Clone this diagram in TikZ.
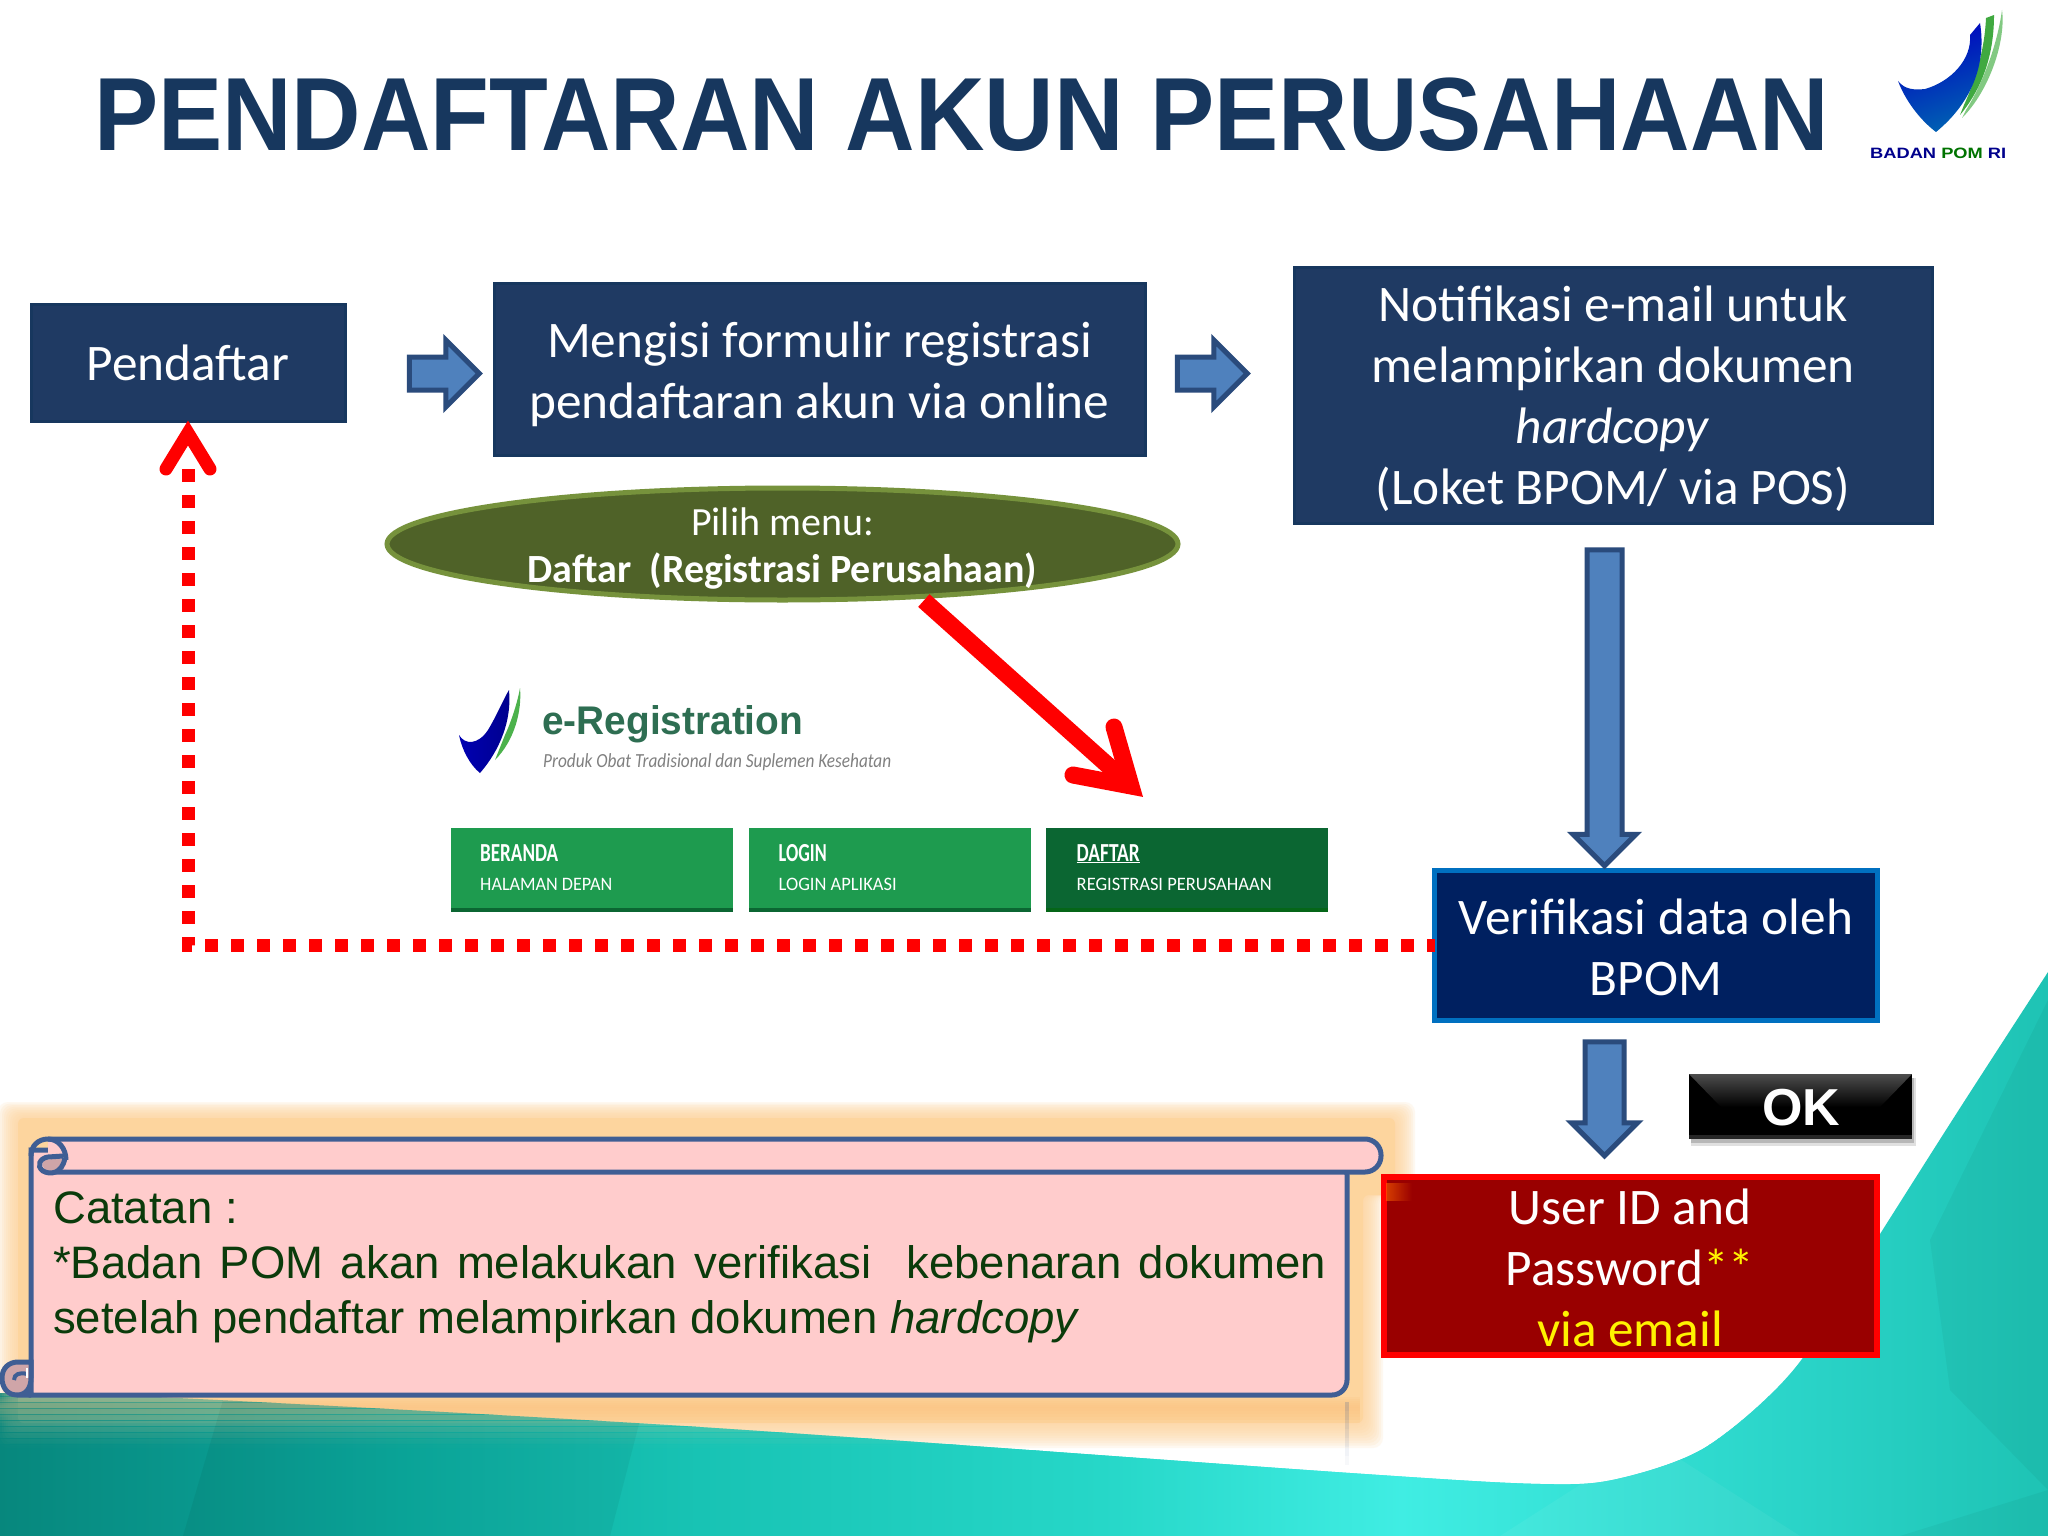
\documentclass[tikz,border=0pt]{standalone}
\usepackage{fontspec}
\usetikzlibrary{shapes.geometric,shapes.arrows,calc}
\setmainfont{Liberation Sans}
\newfontfamily\carl{Carlito}
\newcommand{\fsz}[1]{\fontsize{#1pt}{#1pt}\selectfont}
\newcommand{\fitw}[2]{\resizebox{#1pt}{\height}{#2}}
\newcommand{\nudge}[1]{\rule{0pt}{#1pt}}
\definecolor{navy}{HTML}{1F3A63}
\definecolor{navyline}{HTML}{17375E}
\definecolor{titleblue}{HTML}{17375E}
\definecolor{arrowfill}{HTML}{4F81BD}
\definecolor{arrowline}{HTML}{2A4B7C}
\definecolor{scrollline}{HTML}{3F5E94}
\definecolor{scrollpink}{HTML}{FFCCCC}
\definecolor{scrolldark}{HTML}{CFA5A8}
\definecolor{glow}{HTML}{FDD59E}
\definecolor{glowdark}{HTML}{FBC482}
\definecolor{notegreen}{HTML}{0B3B0B}
\definecolor{tabg}{HTML}{1E9B4F}
\definecolor{tabd}{HTML}{0B6632}
\definecolor{verifill}{HTML}{002060}
\definecolor{veriline}{HTML}{0070C0}
\definecolor{ellfill}{HTML}{4F6228}
\definecolor{ellline}{HTML}{76923C}
\definecolor{eregtext}{HTML}{2E6E52}
\pgfdeclarehorizontalshading{tealbg}{100bp}{
 rgb(0bp)=(0.027,0.53,0.49);
 rgb(25bp)=(0.027,0.53,0.49);
 rgb(29.5bp)=(0.035,0.59,0.55);
 rgb(34.8bp)=(0.043,0.675,0.627);
 rgb(42.1bp)=(0.094,0.765,0.706);
 rgb(51.9bp)=(0.149,0.843,0.784);
 rgb(59.2bp)=(0.25,0.93,0.89);
 rgb(65.3bp)=(0.196,0.87,0.824);
 rgb(68.9bp)=(0.165,0.83,0.784);
 rgb(75bp)=(0.118,0.765,0.706);
 rgb(100bp)=(0.118,0.765,0.706)}
\tikzset{
 x=1pt,y=-1pt,
 flowbox/.style={rectangle,draw=navyline,fill=navy,line width=3pt,text=white,align=center,
   font=\carl\fontsize{51.3pt}{61pt}\selectfont,inner sep=0pt,outer sep=0pt},
 blockarrow/.style={single arrow,draw=arrowline,fill=arrowfill,line width=5pt,inner xsep=0pt,
   outer sep=0pt,single arrow head indent=0pt},
 tabbox/.style={rectangle,minimum width=282pt,minimum height=84pt,inner sep=0pt,outer sep=0pt},
 tabtext/.style={anchor=base west,inner sep=0pt,text=white,font=\carl},
 reddash/.style={draw=red,line width=13pt,dash pattern=on 13pt off 13pt,dash phase=5.5pt},
 redsolid/.style={draw=red,line cap=round,line join=miter,miter limit=10},
 scrollstroke/.style={draw=scrollline,line width=5pt},
 notetext/.style={anchor=base west,inner sep=0pt,text=notegreen,font=\fontsize{45.5pt}{55pt}\selectfont},
}
\begin{document}
\begin{tikzpicture}
\useasboundingbox (0,0) rectangle (2048,1536);
\fill[white] (0,0) rectangle (2048,1536);
% background
\path[shading=tealbg] plot[smooth,tension=0.5] coordinates {(2048,972) (1960,1108) (1880,1234) (1795,1368) (1706,1447) (1617,1479) (1541,1484) (1350,1473) (700,1427) (178,1398) (0,1393)} -- (0,1536) -- (2048,1536) -- cycle;
% glow
\foreach \m in {20,18,...,0}{
 \fill[glow,opacity=.15,rounded corners=10pt] (18-\m,1118-\m*0.8) -- (1395+\m,1118-\m*0.8) -- (1395+\m,1195) -- (1363+\m,1195) -- (1363+\m,1423+\m*1.25) -- (18-\m,1423+\m*1.25) -- cycle;
}
\fill[glow,rounded corners=6pt] (18,1118) -- (1395,1118) -- (1395,1195) -- (1363,1195) -- (1363,1423) -- (18,1423) -- cycle;
\foreach \i in {0,...,5}{
 \fill[glowdark,opacity=.2] (0,1397+\i*2) rectangle (1360,1423-\i*3);
}
% the glow dissolves into the teal band
\begin{scope}
\clip plot[smooth,tension=0.5] coordinates {(2048,972) (1960,1108) (1880,1234) (1795,1368) (1706,1447) (1617,1479) (1541,1484) (1350,1473) (700,1427) (178,1398) (0,1393)} -- (0,1536) -- (2048,1536) -- cycle;
\foreach \i in {0,...,9}{
 \path[shading=tealbg,opacity={.40+.06*\i}] (0,{1390+6*\i}) rectangle (2048,{1396+6*\i});
}
\path[shading=tealbg] (0,1450) rectangle (2048,1536);
\fill[black,opacity=.04] (2048,1000) -- (1930,1240) -- (1950,1390) -- (2048,1490) -- cycle;
\fill[white,opacity=.05] (1650,1440) -- (1800,1536) -- (1500,1536) -- cycle;
\fill[black,opacity=.05] (223,1400) -- (183,1536) -- (610,1536) -- (640,1420) -- cycle;
\fill[black,opacity=.04] (1900,1536) -- (2048,1490) -- (2048,1536) -- cycle;
\end{scope}
% faint reflection of the scroll's right edge
\foreach \i in {0,...,6}{
 \fill[scrollline,opacity={.22-.03*\i}] (1345,{1402+9*\i}) rectangle (1349,{1411+9*\i});
}
% scroll
\draw[scrollstroke,fill=scrollpink] (31,1150) -- (31,1395) [rounded corners=15pt] -- (1347,1395) -- (1347,1160) [sharp corners] -- cycle;
\draw[scrollstroke,fill=scrollpink,rounded corners=16pt] (48,1172) -- (1381,1172) -- (1381,1139) -- (48,1139);
\fill[scrollpink] (48,1143) rectangle (70,1168);
\fill[scrolldark] (44,1160) .. controls (40,1168) and (46,1172) .. (52,1171) .. controls (60,1170) and (62,1165) .. (63,1158) -- cycle;
\draw[scrollstroke] (66,1160) .. controls (66,1148) and (58,1139) .. (48,1139) .. controls (38,1139) and (31,1146) .. (31,1156);
\draw[scrollstroke] (63,1156) -- (48,1157) .. controls (40,1158) and (36,1166) .. (43,1171) .. controls (50,1175) and (62,1174) .. (65,1158);
\draw[scrollstroke,fill=scrolldark] (17,1395) .. controls (7,1395) and (2,1387) .. (2,1378) .. controls (2,1368) and (9,1362) .. (18,1362) -- (31,1362) -- (31,1378) .. controls (31,1388) and (26,1395) .. (17,1395) -- (31,1395);
\draw[scrollstroke,line width=4pt] (27,1374) .. controls (20,1372) and (14,1374) .. (14,1380);
\draw[white,line width=2pt] (27,1368) -- (27,1378);
\node[notetext] (n1) at (53,1223) {Catatan :};
\node[notetext] (n2) at (53,1278) {\makebox[1273pt][s]{*Badan POM akan melakukan verifikasi \ kebenaran dokumen}};
\node[notetext] (n3) at (53,1333) {setelah pendaftar melampirkan dokumen \textit{hardcopy}};
% title
\node[anchor=base west,inner sep=0pt,text=titleblue] (title) at (94,150) {\fsz{104}\bfseries\fitw{1735}{PENDAFTARAN AKUN PERUSAHAAN}};
% BPOM logo
\fill[gray!60!green!70!white] (1966,110) .. controls (1985,80) and (1998,40) .. (2002,10) .. controls (2006,40) and (1990,90) .. (1962,118) -- cycle;
\fill[green!55!black!75!white] (1964,105) .. controls (1980,70) and (1985,40) .. (1986,18) -- (1994,15) .. controls (1994,50) and (1985,85) .. (1960,115) -- cycle;
\shade[left color=blue!75!black,right color=blue!45!cyan!70!black,shading angle=20] (1898,81) .. controls (1905,90) and (1915,90) .. (1925,89) .. controls (1950,82) and (1972,60) .. (1970,35) -- (1980,23) .. controls (1986,60) and (1975,100) .. (1936,132) .. controls (1920,120) and (1905,100) .. (1898,81) -- cycle;
\node[anchor=base west,inner sep=0pt] (bpom) at (1870,158) {\fsz{15}\bfseries\fitw{136}{\textcolor{blue!55!black}{BADAN }\textcolor{green!45!black}{POM }\textcolor{blue!55!black}{RI}}};
% flow boxes
\node[flowbox,minimum width=314pt,minimum height=117pt] (pend) at (188,362.5) {Pendaftar};
\node[flowbox,minimum width=651pt,minimum height=172pt] (form) at (819.5,369) {\nudge{46}Mengisi formulir registrasi\\ pendaftaran akun via online};
\node[flowbox,minimum width=638pt,minimum height=256pt] (notif) at (1613,395) {\nudge{44}Notifikasi e-mail untuk\\ melampirkan dokumen\\ \textit{hardcopy}\\ (Loket BPOM/ via POS)};
\node[flowbox,draw=veriline,fill=verifill,line width=5pt,minimum width=443pt,minimum height=150pt] (verif) at (1656,945.5) {\nudge{40}Verifikasi data oleh\\ BPOM};
\node[flowbox,draw=red,fill=red!60!black,line width=6pt,minimum width=493pt,minimum height=178pt] (user) at (1630,1266) {\nudge{40}User ID and\\ Password\textcolor{yellow}{**}\\ \textcolor{yellow}{via email}};
\shade[left color=orange!80!red,right color=red!60!black,opacity=.6] (1386,1183) rectangle (1412,1200);
% block arrows
\node[blockarrow,minimum width=62pt,minimum height=70pt,inner ysep=14pt,single arrow head extend=17pt] (a1) at (436,373.5) {};
\node[blockarrow,minimum width=62pt,minimum height=70pt,inner ysep=14pt,single arrow head extend=17pt] (a2) at (1204,373.5) {};
\node[blockarrow,rotate=-90,minimum width=58pt,minimum height=316pt,inner ysep=15pt,single arrow head extend=14pt] (a3) at (1604.5,699) {};
\node[blockarrow,rotate=-90,minimum width=62pt,minimum height=114pt,inner ysep=17pt,single arrow head extend=13.5pt] (a4) at (1604.5,1089) {};
% OK button
\fill[black,opacity=.12] (1691,1078) rectangle (1916,1146);
\fill[black,opacity=.18] (1691,1078) rectangle (1914,1143);
\node[rectangle,fill=black,minimum width=223pt,minimum height=65pt,inner sep=0pt,outer sep=0pt] (okbtn) at (1800.5,1106.5) {};
\shade[top color=black!70,bottom color=black] (1689,1074) -- (1912,1074) -- (1880,1107) -- (1721,1107) -- cycle;
\fill[black!85] (1689,1135) rectangle (1912,1139);
\node[text=white,font=\fsz{52}\bfseries,inner sep=0pt] (oklabel) at (1801,1108) {OK};
% ellipse & red arrow
\coordinate (redtip) at (1131,786);
\coordinate (redb1) at (1114,727);
\coordinate (redb2) at (1073,775);
\node[ellipse,draw=ellline,fill=ellfill,line width=5pt,minimum width=791pt,minimum height=112pt,inner sep=0pt,outer sep=0pt] (ell) at (782.5,544) {};
\node[text=white,align=center,inner sep=0pt,font=\carl\fontsize{40pt}{47pt}\selectfont] (elltext) at (782.5,548) {Pilih menu:\\ \textbf{Daftar \ (Registrasi Perusahaan)}};
\draw[redsolid,line width=17pt,line cap=butt,shorten <=6pt] (ell.-21) -- (redtip);
\draw[redsolid,line width=17pt] (redb1) -- (redtip) -- (redb2);
% e-Registration logo
\fill[green!40!gray] (505,735) .. controls (512,720) and (518,700) .. (520,688) .. controls (522,710) and (515,740) .. (495,760) -- cycle;
\shade[left color=blue!70!black,right color=blue!55!black] (459,735) .. controls (465,745) and (478,745) .. (488,730) .. controls (497,715) and (503,700) .. (509,690) .. controls (512,720) and (500,750) .. (480,773) .. controls (470,765) and (462,750) .. (459,735) -- cycle;
\node[anchor=base west,inner sep=0pt] (ereg) at (542,734) {\fsz{40}\bfseries\fitw{261}{\textcolor{eregtext}{e-Registration}}};
\node[anchor=base west,inner sep=0pt,text=black!50] (esub) at (543,767) {\carl\itshape\fsz{20}\fitw{348}{Produk Obat Tradisional dan Suplemen Kesehatan}};
% tabs
\node[tabbox,fill=tabg] (t1) at (592,870) {};
\node[tabbox,fill=tabg] (t2) at (889.5,870) {};
\node[tabbox,fill=tabd] (t3) at (1187,870) {};
\fill[tabd] (451,908) rectangle (733,912);
\fill[tabd] (748.5,908) rectangle (1030.5,912);
\fill[black!60!green,opacity=.5] (1046,908) rectangle (1328,912);
\node[tabtext] (t1a) at (480,861) {\fsz{26}\bfseries\fitw{78}{BERANDA}};
\node[tabtext] (t1b) at (480,890) {\fsz{19}\fitw{132}{HALAMAN DEPAN}};
\node[tabtext] (t2a) at (778.5,861) {\fsz{26}\bfseries\fitw{48}{LOGIN}};
\node[tabtext] (t2b) at (778.5,890) {\fsz{19}\fitw{118}{LOGIN APLIKASI}};
\node[tabtext] (t3a) at (1076.5,861) {\fsz{26}\bfseries\fitw{63}{\underline{DAFTAR}}};
\node[tabtext] (t3b) at (1076.5,890) {\fsz{19}\fitw{195}{REGISTRASI PERUSAHAAN}};
% dashed return
\coordinate (dashend) at ($(pend.south)+(0,43)$);
\draw[reddash] (verif.west) -| (dashend);
\draw[redsolid,line width=13pt] ($(pend.south)+(-22,48)$) -- ($(pend.south)+(0,12)$) -- ($(pend.south)+(22,48)$);
\end{tikzpicture}
\end{document}
